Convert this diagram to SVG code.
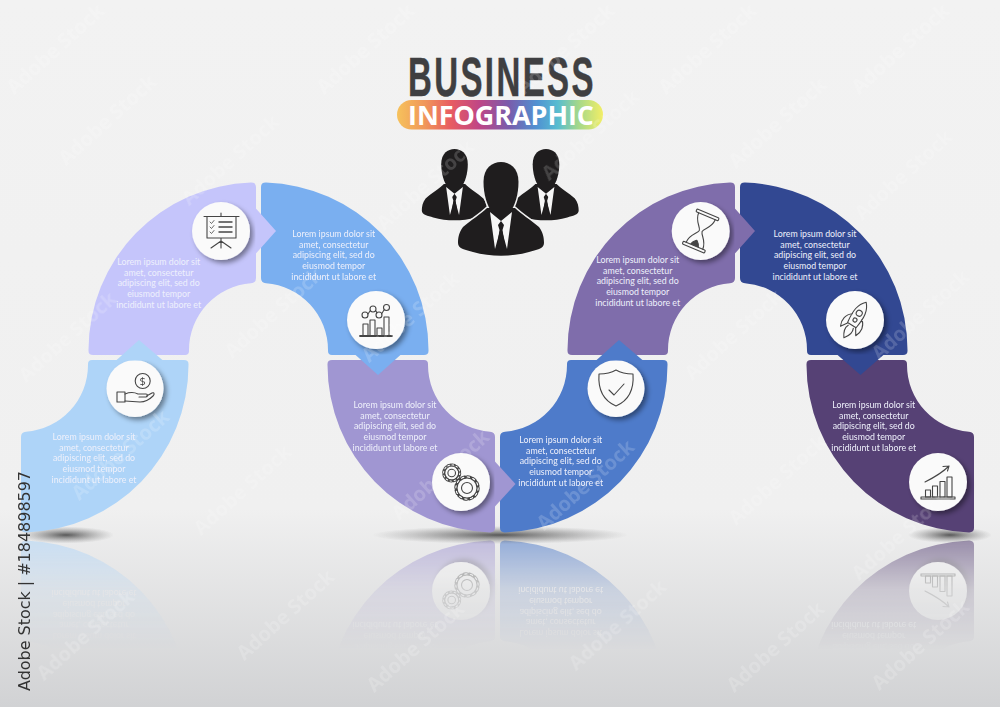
<svg xmlns="http://www.w3.org/2000/svg" xmlns:xlink="http://www.w3.org/1999/xlink" width="1000" height="707" viewBox="0 0 1000 707">
<style>
.t{font-family:Lato,"Open Sans","Liberation Sans",sans-serif;font-size:8.8px;fill:#eef0fb;text-anchor:middle}
.i{fill:none;stroke:#454545;stroke-width:1.1;stroke-linecap:round;stroke-linejoin:round}
.c{fill:#fafafa;filter:url(#cs)}
.wm{font-family:"Open Sans","Liberation Sans",sans-serif;font-weight:700;font-size:20px;fill:#fff;text-anchor:middle;opacity:.17}
</style>
<defs>
<linearGradient id="bg" x1="0" y1="0" x2="0" y2="1"><stop offset="0" stop-color="#f2f2f2"/><stop offset=".72" stop-color="#f0f0f0"/><stop offset="1" stop-color="#d1d2d4"/></linearGradient>
<linearGradient id="pill"><stop offset="0" stop-color="#f6c25c"/><stop offset=".14" stop-color="#f0955a"/><stop offset=".26" stop-color="#e85c62"/><stop offset=".4" stop-color="#bf4686"/><stop offset=".54" stop-color="#7a5bab"/><stop offset=".68" stop-color="#4f92d2"/><stop offset=".78" stop-color="#58bdd0"/><stop offset=".88" stop-color="#a4d88a"/><stop offset="1" stop-color="#f2ee66"/></linearGradient>
<radialGradient id="sh"><stop offset="0" stop-color="#333" stop-opacity=".8"/><stop offset=".5" stop-color="#555" stop-opacity=".4"/><stop offset="1" stop-color="#777" stop-opacity="0"/></radialGradient>
<linearGradient id="fade" gradientUnits="userSpaceOnUse" x1="0" y1="540" x2="0" y2="650"><stop offset="0" stop-color="#fff" stop-opacity=".55"/><stop offset=".45" stop-color="#fff" stop-opacity=".17"/><stop offset="1" stop-color="#fff" stop-opacity="0"/></linearGradient>
<mask id="m" maskUnits="userSpaceOnUse" x="0" y="538" width="1000" height="169"><rect x="0" y="538" width="1000" height="169" fill="url(#fade)"/></mask>
<filter id="cs" x="-30%" y="-30%" width="170%" height="170%"><feDropShadow dx="3" dy="3" stdDeviation="2.6" flood-color="#000" flood-opacity=".42"/></filter>
<path id="band" d="M0,72 Q0,67 5,66.8 A67 67 0 0 0 67,0 L67,-1 Q67,-5 71,-5 L163,-5 Q167.5,-5 167.5,-1 L167.5,0 A167.5 167.5 0 0 1 5,167.4 Q0,167.5 0,163 Z"/>
<g id="txt"><text class="t"><tspan x="0" y="0">Lorem ipsum dolor sit</tspan><tspan x="0" y="10.7">amet, consectetur</tspan><tspan x="0" y="21.4">adipiscing elit, sed do</tspan><tspan x="0" y="32">eiusmod tempor</tspan><tspan x="0" y="42.7">incididunt ut labore et</tspan></text></g>
<g id="person">
<path d="M-14,46 C-20,52 -30,58 -38,65 C-42,70 -43,76 -43,81 C-43,87 -35,88 -28,90 C-10,95 10,95 28,90 C35,88 43,87 43,81 C43,76 42,70 38,65 C30,58 20,52 14,46 Z"/>
<path d="M-17.500,20 C-17.500,6 -9,0 0,0 C9,0 17.500,6 17.500,20 C17.500,32 14,44 9,50 L0,58 L-9,50 C-14,44 -17.500,32 -17.500,20 Z"/>
<path fill="#f6f6f6" d="M-11,50 L-6,87 L0,65 L6,87 L11,50 L0,59 Z"/>
<path d="M-3,63 L0,59 L3,63 L1.500,68 L4,84 L0,90 L-4,84 L-1.500,68 Z"/>
</g>
<g id="nodes">
<g id="node8"><use xlink:href="#band" transform="translate(974,365) scale(-1,1)" fill="#564175"/><circle class="c" cx="938" cy="482" r="29"/><g class="i"><path d="M921,497 H955 V499 H921 Z"/><rect x="925.500" y="490" width="5" height="7"/><rect x="932.500" y="486" width="5" height="11"/><rect x="940" y="481.500" width="5" height="15.500"/><rect x="947" y="477" width="5" height="20"/><path d="M925,482 C933,478 942,473 949,466 M943,466.500 L949,466 L947.500,471"/></g><use xlink:href="#txt" x="873.700" y="408"/></g>
<g id="node7"><use xlink:href="#band" transform="translate(740,350) scale(1,-1)" fill="#324892"/><circle class="c" cx="855" cy="320" r="29"/><g class="i" transform="translate(855,320) rotate(32)"><path d="M0,-21 C6,-15 7,-7 5,6 L-5,6 C-7,-7 -6,-15 0,-21 Z M-5.500,-4 C-11,0 -12,7 -9,13 L-4.500,6 M5.500,-4 C11,0 12,7 9,13 L4.500,6 M-3,8 C-5,12 -3,17 0,21 C3,17 5,12 3,8"/><circle cx="0" cy="-8" r="3"/><circle cx="0" cy="0" r="2"/></g><use xlink:href="#txt" x="815" y="237"/></g>
<g id="node6"><use xlink:href="#band" transform="translate(735,350) rotate(180)" fill="#7f6dab"/><circle class="c" cx="700.700" cy="231" r="29"/><g class="i" transform="translate(700.700,231) rotate(23)"><rect x="-12" y="-19" width="24" height="3" rx="1"/><rect x="-12" y="16" width="24" height="3" rx="1"/><path d="M-9,-16 C-9,-7 -2,-4 -1.500,0 C-2,4 -9,7 -9,16 M9,-16 C9,-7 2,-4 1.500,0 C2,4 9,7 9,16"/><path fill="#454545" d="M-4,15.500 C-3,12 -1,11 0,10 C1,11 3,12 4,15.500 Z"/></g><use xlink:href="#txt" x="637.700" y="263"/></g>
<g id="node5"><use xlink:href="#band" transform="translate(500,365)" fill="#4e7bca"/><circle class="c" cx="616" cy="388.500" r="28.500"/><g class="i"><path d="M616,370 C621,373 627,374 633,374 C634,388 630,400 616,406 C602,400 598,388 599,374 C605,374 611,373 616,370 Z M609,390 L614,395 L624,384"/></g><use xlink:href="#txt" x="560.700" y="443"/></g>
<g id="node4"><use xlink:href="#band" transform="translate(495,365) scale(-1,1)" fill="#a096d2"/><circle class="c" cx="461" cy="482" r="29"/><g class="i"><circle cx="451.700" cy="473" r="8" stroke-width="3" stroke-dasharray="2.500 1.700"/><circle cx="451.700" cy="473" r="8" stroke="#fafafa" stroke-width="1.200" stroke-dasharray="1.500 2.700"/><circle cx="451.700" cy="473" r="7"/><circle cx="451.700" cy="473" r="3.800"/><circle cx="467" cy="488" r="11" stroke-width="3.400" stroke-dasharray="3.200 2.560"/><circle cx="467" cy="488" r="11" stroke="#fafafa" stroke-width="1.400" stroke-dasharray="2 3.760"/><circle cx="467" cy="488" r="10" fill="#fafafa"/><circle cx="467" cy="488" r="5.500"/></g><use xlink:href="#txt" x="395" y="408"/></g>
<g id="node3"><use xlink:href="#band" transform="translate(261,350) scale(1,-1)" fill="#7aaff0"/><circle class="c" cx="376" cy="320" r="29"/><g class="i"><path d="M360,336 H392" stroke-width="1.800"/><rect x="363" y="324" width="5" height="12"/><rect x="370" y="320" width="5" height="16"/><rect x="377" y="328" width="5" height="8"/><rect x="384" y="317" width="5" height="19"/><path d="M368,314 L370,311 M376,311 L377,313 M381.500,314 L384,310"/><circle cx="365" cy="315" r="3"/><circle cx="373" cy="309" r="3"/><circle cx="379" cy="315" r="3"/><circle cx="386.500" cy="307.500" r="3"/></g><use xlink:href="#txt" x="333.700" y="237"/></g>
<g id="node2"><use xlink:href="#band" transform="translate(256,350) rotate(180)" fill="#c5c5fb"/><circle class="c" cx="221" cy="231" r="29"/><g class="i"><path d="M204,216.500 H239 M221,213 V216.500 M207,216.500 V238 H236 V216.500 M221,238 V248 M221,241 L211,248 M221,241 L231,248"/><path d="M219,222 H232 M219,227 H232 M219,232 H232" stroke-width="1.400"/><path d="M210,222 L211.500,223.500 L214,220.500 M210,227 L211.500,228.500 L214,225.500 M210,232 L211.500,233.500 L214,230.500" stroke-width=".8"/></g><use xlink:href="#txt" x="158.700" y="265"/></g>
<g id="node1"><use xlink:href="#band" transform="translate(21,365)" fill="#aed4f8"/><circle class="c" cx="135" cy="388.500" r="28.500"/><g class="i"><circle cx="142.700" cy="381" r="7.500"/><rect x="117" y="392" width="8" height="10"/><path d="M125,394 C130,392 134,392 138,394 L146,394 C148,394 148,397 146,397 L139,397 M146.500,396 L152,393 C154,392 155,394 153,396 C149,400 144,402 140,402 L125,401"/></g><text x="142.700" y="385" font-family="Open Sans,Liberation Sans,sans-serif" font-size="11" fill="#454545" text-anchor="middle">$</text><use xlink:href="#txt" x="94" y="440"/></g>
</g>
</defs>
<rect id="background" width="1000" height="707" fill="url(#bg)"/>
<g id="reflection" mask="url(#m)"><use xlink:href="#nodes" transform="matrix(1 0 0 -1 0 1073)"/></g>
<g id="floor-shadows">
<ellipse cx="66" cy="535" rx="48" ry="8.500" fill="url(#sh)"/>
<ellipse cx="500" cy="535" rx="128" ry="9" fill="url(#sh)"/>
<ellipse cx="950" cy="535" rx="42" ry="8" fill="url(#sh)"/>
</g>
<use xlink:href="#nodes"/>
<g id="connectors">
<path fill="#aed4f8" d="M116,360.500 L139,340 L163,360.500 Z"/>
<path fill="#c5c5fb" d="M255.500,208 L276,231 L255.500,254 Z"/>
<path fill="#7aaff0" d="M355,354.500 L378,375 L401,354.500 Z"/>
<path fill="#a096d2" d="M494.500,461 L515.500,484 L494.500,507 Z"/>
<path fill="#4e7bca" d="M596,360.500 L619,340 L643,360.500 Z"/>
<path fill="#7f6dab" d="M734.500,208 L755,231 L734.500,254 Z"/>
<path fill="#324892" d="M837,354.500 L860.500,375 L884,354.500 Z"/>
</g>
<g id="title">
<text transform="translate(408,96) scale(.6,1)" font-family="Liberation Sans,Arial,sans-serif" font-weight="700" font-size="55" letter-spacing="4" fill="#3f3f41" stroke="#3f3f41" stroke-width=".5">BUSINESS</text>
<rect x="397" y="100" width="206" height="29.500" rx="14.700" fill="url(#pill)"/>
<text x="501" y="125" font-family="Open Sans,Liberation Sans,sans-serif" font-weight="700" font-size="27" fill="#fff" text-anchor="middle" textLength="186" lengthAdjust="spacingAndGlyphs">INFOGRAPHIC</text>
</g>
<g id="people" fill="#1f1d1e">
<use xlink:href="#person" transform="translate(454.500,149) scale(.76)"/>
<use xlink:href="#person" transform="translate(546,149) scale(.76)"/>
<use xlink:href="#person" transform="translate(501,162)" stroke="#f1f1f1" stroke-width="3"/>
<use xlink:href="#person" transform="translate(501,162)"/>
</g>
<g id="watermark">
<text class="wm" transform="translate(60,54) rotate(-42)">Adobe Stock</text><text class="wm" transform="translate(112,125) rotate(-42)">Adobe Stock</text><text class="wm" transform="translate(235,165) rotate(-42)">Adobe Stock</text><text class="wm" transform="translate(370,54) rotate(-42)">Adobe Stock</text><text class="wm" transform="translate(570,54) rotate(-42)">Adobe Stock</text><text class="wm" transform="translate(712,54) rotate(-42)">Adobe Stock</text><text class="wm" transform="translate(905,54) rotate(-42)">Adobe Stock</text><text class="wm" transform="translate(430,190) rotate(-42)">Adobe Stock</text><text class="wm" transform="translate(595,140) rotate(-42)">Adobe Stock</text><text class="wm" transform="translate(782,128) rotate(-42)">Adobe Stock</text><text class="wm" transform="translate(908,180) rotate(-42)">Adobe Stock</text><text class="wm" transform="translate(72,342) rotate(-42)">Adobe Stock</text><text class="wm" transform="translate(278,318) rotate(-42)">Adobe Stock</text><text class="wm" transform="translate(415,322) rotate(-42)">Adobe Stock</text><text class="wm" transform="translate(738,340) rotate(-42)">Adobe Stock</text><text class="wm" transform="translate(925,320) rotate(-42)">Adobe Stock</text><text class="wm" transform="translate(125,460) rotate(-42)">Adobe Stock</text><text class="wm" transform="translate(247,495) rotate(-42)">Adobe Stock</text><text class="wm" transform="translate(445,480) rotate(-42)">Adobe Stock</text><text class="wm" transform="translate(590,490) rotate(-42)">Adobe Stock</text><text class="wm" transform="translate(782,485) rotate(-42)">Adobe Stock</text><text class="wm" transform="translate(905,540) rotate(-42)">Adobe Stock</text><text class="wm" transform="translate(290,620) rotate(-42)">Adobe Stock</text><text class="wm" transform="translate(420,652) rotate(-42)">Adobe Stock</text><text class="wm" transform="translate(622,630) rotate(-42)">Adobe Stock</text><text class="wm" transform="translate(780,652) rotate(-42)">Adobe Stock</text><text class="wm" transform="translate(925,650) rotate(-42)">Adobe Stock</text><text class="wm" transform="translate(90,640) rotate(-42)">Adobe Stock</text>
</g>
<text transform="translate(30,691) rotate(-90)" font-family="DejaVu Sans,Liberation Sans,sans-serif" font-size="16" fill="#333" textLength="220" lengthAdjust="spacingAndGlyphs">Adobe Stock | #184898597</text>
</svg>
